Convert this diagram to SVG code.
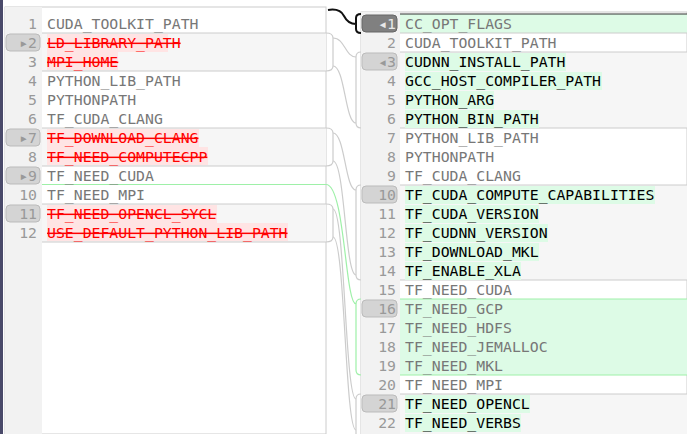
<svg xmlns="http://www.w3.org/2000/svg" width="687" height="434" viewBox="0 0 687 434">
<style>
text{font-family:"DejaVu Sans Mono",monospace;font-size:14.8px}
.n{fill:#999;text-anchor:end}
.u{fill:#777}
.a{fill:#000}
.d{fill:#f00;text-decoration:line-through}
.blk{fill:#f6f6f6}
.sep{stroke:#ccc;stroke-width:1}
.del{fill:#ffe4e4}
.add{fill:#ddfbe6}
.badge{fill:#d4d4d4;stroke:#bbb}
.bt{fill:#999;text-anchor:end}
.c{fill:none;stroke:#ccc;stroke-width:1.2}
</style>
<rect width="687" height="434" fill="#fff"/>
<rect x="0" y="0" width="3" height="434" fill="#4a4a6a"/>
<g id="left">
<rect x="5" y="7" width="321" height="427" fill="#fff" stroke="#ccc"/>
<rect x="5" y="7" width="37" height="427" fill="#f2f2f2"/>
<rect class="blk" x="42" y="33" width="284" height="38"/>
<rect class="blk" x="42" y="128" width="284" height="38"/>
<rect class="blk" x="42" y="204" width="284" height="38"/>
<line class="sep" x1="42" y1="33" x2="326" y2="33"/><line class="sep" x1="42" y1="71" x2="326" y2="71"/>
<line class="sep" x1="42" y1="128" x2="326" y2="128"/><line class="sep" x1="42" y1="166" x2="326" y2="166"/>
<line x1="42" y1="184.5" x2="326" y2="184.5" stroke="#9ef0a8"/>
<line class="sep" x1="42" y1="204" x2="326" y2="204"/><line class="sep" x1="42" y1="242" x2="326" y2="242"/>
<rect class="del" x="47" y="34" width="121" height="18"/><rect class="del" x="47" y="52" width="71" height="18"/>
<rect class="del" x="47" y="129" width="152" height="18"/><rect class="del" x="47" y="147" width="161" height="18"/>
<rect class="del" x="47" y="205" width="170" height="18"/><rect class="del" x="47" y="223" width="241" height="18"/>
<rect class="badge" x="6" y="34" width="34" height="17" rx="4"/>
<rect class="badge" x="6" y="129" width="34" height="17" rx="4"/>
<rect class="badge" x="6" y="167" width="34" height="17" rx="4"/>
<rect class="badge" x="6" y="205" width="34" height="17" rx="4"/>
<g class="n"><text x="37" y="29">1</text><text x="37" y="48" class="bt">▸2</text><text x="37" y="67">3</text><text x="37" y="86">4</text><text x="37" y="105">5</text><text x="37" y="124">6</text><text x="37" y="143">▸7</text><text x="37" y="162">8</text><text x="37" y="181">▸9</text><text x="37" y="200">10</text><text x="37" y="219">11</text><text x="37" y="238">12</text></g>
<text class="u" x="47" y="29">CUDA_TOOLKIT_PATH</text>
<text class="d" x="47" y="48">LD_LIBRARY_PATH</text>
<text class="d" x="47" y="67">MPI_HOME</text>
<text class="u" x="47" y="86">PYTHON_LIB_PATH</text>
<text class="u" x="47" y="105">PYTHONPATH</text>
<text class="u" x="47" y="124">TF_CUDA_CLANG</text>
<text class="d" x="47" y="143">TF_DOWNLOAD_CLANG</text>
<text class="d" x="47" y="162">TF_NEED_COMPUTECPP</text>
<text class="u" x="47" y="181">TF_NEED_CUDA</text>
<text class="u" x="47" y="200">TF_NEED_MPI</text>
<text class="d" x="47" y="219">TF_NEED_OPENCL_SYCL</text>
<text class="d" x="47" y="238">USE_DEFAULT_PYTHON_LIB_PATH</text>
</g>
<g id="right">
<rect x="361" y="12" width="326" height="422" fill="#fff" stroke="#ccc"/>
<rect x="361" y="12" width="39" height="422" fill="#f2f2f2"/>
<rect class="add" x="400" y="14" width="287" height="19"/>
<line x1="400" y1="14" x2="687" y2="14" stroke="#333"/>
<rect class="blk" x="400" y="52" width="287" height="76"/>
<rect class="blk" x="400" y="185" width="287" height="95"/>
<rect class="add" x="400" y="299" width="287" height="76"/>
<rect class="blk" x="400" y="394" width="287" height="40"/>
<line class="sep" x1="400" y1="33" x2="687" y2="33"/>
<line class="sep" x1="400" y1="52" x2="687" y2="52"/><line class="sep" x1="400" y1="128" x2="687" y2="128"/>
<line class="sep" x1="400" y1="185" x2="687" y2="185"/><line class="sep" x1="400" y1="280" x2="687" y2="280"/>
<line x1="400" y1="299" x2="687" y2="299" stroke="#9ef0a8"/><line x1="400" y1="375" x2="687" y2="375" stroke="#9ef0a8"/>
<line class="sep" x1="400" y1="394" x2="687" y2="394"/>
<g class="add">
<rect x="405" y="53" width="161" height="18"/><rect x="405" y="72" width="197" height="18"/><rect x="405" y="91" width="89" height="18"/><rect x="405" y="110" width="134" height="18"/>
<rect x="405" y="186" width="250" height="18"/><rect x="405" y="205" width="134" height="18"/><rect x="405" y="224" width="143" height="18"/><rect x="405" y="243" width="134" height="18"/><rect x="405" y="262" width="116" height="18"/>
<rect x="405" y="395" width="125" height="18"/><rect x="405" y="414" width="116" height="18"/>
</g>
<rect x="362" y="15" width="35" height="17" rx="4" fill="#808080" stroke="#666"/>
<rect class="badge" x="362" y="53" width="35" height="17" rx="4"/>
<rect class="badge" x="362" y="186" width="35" height="17" rx="4"/>
<rect class="badge" x="362" y="300" width="35" height="17" rx="4"/>
<rect class="badge" x="362" y="395" width="35" height="17" rx="4"/>
<g class="n"><text x="396" y="29" fill="#ddd" style="fill:#e8e8e8">◂1</text><text x="396" y="48">2</text><text x="396" y="67">◂3</text><text x="396" y="86">4</text><text x="396" y="105">5</text><text x="396" y="124">6</text><text x="396" y="143">7</text><text x="396" y="162">8</text><text x="396" y="181">9</text><text x="396" y="200">10</text><text x="396" y="219">11</text><text x="396" y="238">12</text><text x="396" y="257">13</text><text x="396" y="276">14</text><text x="396" y="295">15</text><text x="396" y="314">16</text><text x="396" y="333">17</text><text x="396" y="352">18</text><text x="396" y="371">19</text><text x="396" y="390">20</text><text x="396" y="409">21</text><text x="396" y="428">22</text></g>
<text class="u" x="405" y="29">CC_OPT_FLAGS</text>
<text class="u" x="405" y="48">CUDA_TOOLKIT_PATH</text>
<text class="a" x="405" y="67">CUDNN_INSTALL_PATH</text>
<text class="a" x="405" y="86">GCC_HOST_COMPILER_PATH</text>
<text class="a" x="405" y="105">PYTHON_ARG</text>
<text class="a" x="405" y="124">PYTHON_BIN_PATH</text>
<text class="u" x="405" y="143">PYTHON_LIB_PATH</text>
<text class="u" x="405" y="162">PYTHONPATH</text>
<text class="u" x="405" y="181">TF_CUDA_CLANG</text>
<text class="a" x="405" y="200">TF_CUDA_COMPUTE_CAPABILITIES</text>
<text class="a" x="405" y="219">TF_CUDA_VERSION</text>
<text class="a" x="405" y="238">TF_CUDNN_VERSION</text>
<text class="a" x="405" y="257">TF_DOWNLOAD_MKL</text>
<text class="a" x="405" y="276">TF_ENABLE_XLA</text>
<text class="u" x="405" y="295">TF_NEED_CUDA</text>
<text class="u" x="405" y="314">TF_NEED_GCP</text>
<text class="u" x="405" y="333">TF_NEED_HDFS</text>
<text class="u" x="405" y="352">TF_NEED_JEMALLOC</text>
<text class="u" x="405" y="371">TF_NEED_MKL</text>
<text class="u" x="405" y="390">TF_NEED_MPI</text>
<text class="a" x="405" y="409">TF_NEED_OPENCL</text>
<text class="a" x="405" y="428">TF_NEED_VERBS</text>
</g>
<g id="connectors">
<path d="M328 10 Q340 8 344 16 Q348 24 356 24 M361 14 Q356 14 356 18 L356 29 Q356 33 361 33" fill="none" stroke="#111" stroke-width="2"/>
<path class="c" d="M326 33 Q333 33 333 38 L333 66 Q333 71 326 71"/>
<path class="c" d="M333 38 C345 38 345 57 356 57 M333 66 C345 66 345 123 356 123"/>
<path class="c" d="M361 52 Q356 52 356 57 L356 123 Q356 128 361 128"/>
<path class="c" d="M326 128 Q333 128 333 133 L333 161 Q333 166 326 166"/>
<path class="c" d="M333 133 C345 133 345 190 356 190 M333 161 C345 161 345 275 356 275"/>
<path class="c" d="M361 185 Q356 185 356 190 L356 275 Q356 280 361 280"/>
<path d="M326 184.5 C345 184.5 345 304 356 304 M361 299 Q356 299 356 304 L356 370 Q356 375 361 375" fill="none" stroke="#9ef0a8" stroke-width="1.2"/>
<path class="c" d="M326 204 Q333 204 333 209 L333 237 Q333 242 326 242"/>
<path class="c" d="M333 209 C345 209 345 399 356 399 M333 237 C345 237 345 430 356 430"/>
<path class="c" d="M361 394 Q356 394 356 399 L356 434"/>
</g>
</svg>
